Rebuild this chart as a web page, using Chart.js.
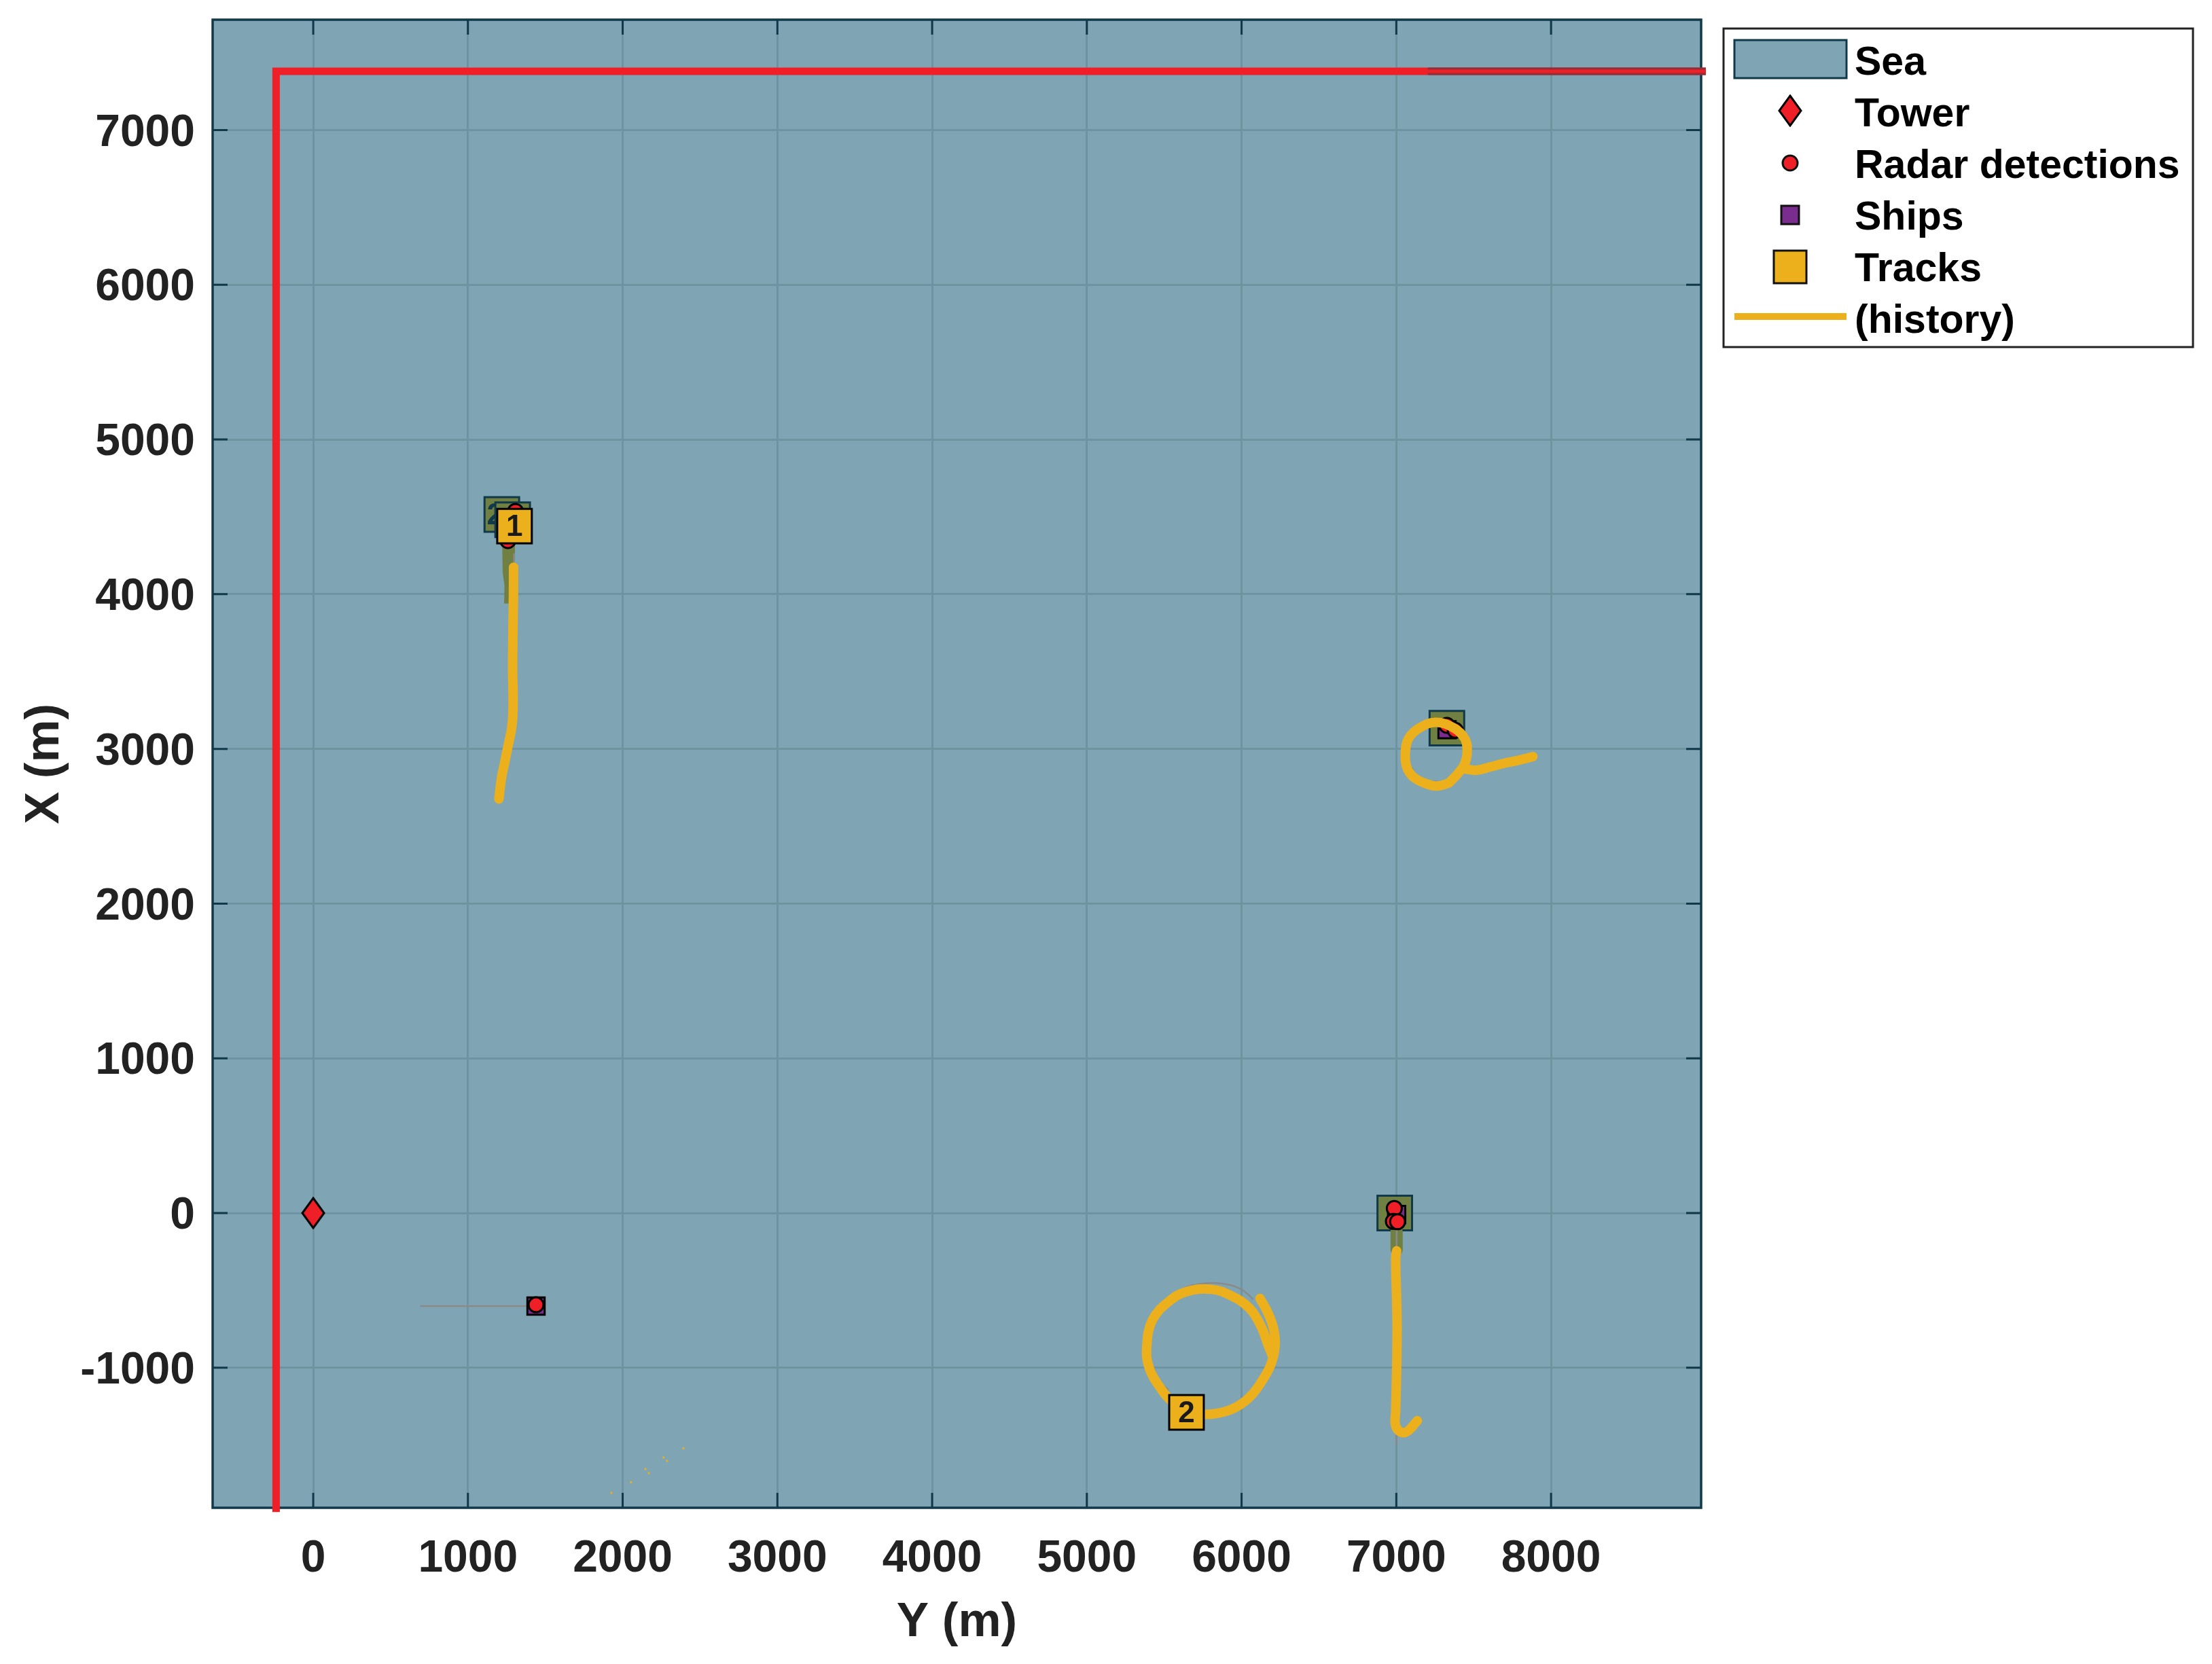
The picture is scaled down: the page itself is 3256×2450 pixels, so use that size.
<!DOCTYPE html>
<html>
<head>
<meta charset="utf-8">
<title>Tracks</title>
<script src="https://cdn.jsdelivr.net/npm/chart.js@4/dist/chart.umd.js"></script>
<style>
    html, body { margin: 0; padding: 0; background: #fff; }
    canvas { display: block; }
</style>
</head>
<body>
<canvas id="trackChart" width="3256" height="2450"></canvas>
<script>
// tick labels
const yTickValues = [0, 1000, 2000, 3000, 4000, 5000, 6000, 7000, 8000];
const xTickValues = [-1000, 0, 1000, 2000, 3000, 4000, 5000, 6000, 7000];
const legendLabels = ['Sea', 'Tower', 'Radar detections', 'Ships', 'Tracks', '(history)'];

// horizontal axis is Y (m), vertical axis is X (m)
const towerY = [0];
const towerX = [0];

const radarY = [1440, 1307, 1258, 7327, 7381, 6987, 6981, 7008];
const radarX = [-593, 4535, 4346, 3152, 3120, 30, -54, -56];

const shipY = [1440, 7328, 7002];
const shipX = [-601, 3124, -10];

const trackY = [1301, 5644];
const trackX = [4440, -1288];
const trackLabels = ['1', '2'];

const oldTrackY = [1289, 7327, 6990];
const oldTrackX = [4481, 3134, 0];
const backTrackY = [1219];
const backTrackX = [4515];
const backTrackLabels = ['2'];

const historyY = [
    1295, 1294, 1291, 1289, 1292, 1290, 1282, 1260, 1239, 1217, 1200, null,
    7883, 7780, 7693, 7605, 7517, 7444, null,
    7341, 7400, 7441, 7458, 7444, 7371, 7254, 7151, 7081, 7059, 7066, 7107, 7195, 7268, 7341, null,
    7136, 7071, 7027, 6995, 6996, 7002, 7005, 7002, 6996, 7002, null,
    6119, 6171, 6207, 6217, 6193, 6141, 6054, 5951, 5819, 5673, null,
    5560, 5490, 5402, 5388, 5424, 5527, 5644, 5805, 5937, 6054, 6127, 6171, 6200
];
const historyX = [
    4174, 3977, 3795, 3493, 3342, 3215, 3130, 3023, 2919, 2812, 2676, null,
    2950, 2924, 2906, 2883, 2862, 2870, null,
    2780, 2843, 2902, 2975, 3063, 3136, 3172, 3136, 3070, 2982, 2887, 2821, 2774, 2760, 2780, null,
    -1342, -1411, -1415, -1371, -1276, -1027, -735, -559, -296, -244, null,
    -552, -647, -749, -852, -969, -1071, -1188, -1261, -1298, -1298, null,
    -1230, -1152, -998, -852, -691, -574, -508, -493, -537, -618, -735, -852, -925
];

const oldHistoryY = [1261, 1264, 1276, 1273, null, 7002, 7002];
const oldHistoryX = [4311, 4144, 4053, 3939, null, -120, -237];

const truthY = [
    691, 1388, null,
    1298, 1298, null,
    7002, 7002, null,
    7002, 7002, null,
    5571, 5658, 5805, 5922, 6010, 6075, null,
    5432, 5461, 5527, null,
    7100, 7120, 7180, 7235, 7268, null,
    7444, 7473, 7476
];
const truthX = [
    -601, -601, null,
    4264, 4174, null,
    -105, -237, null,
    -1422, -1503, null,
    -522, -474, -452, -464, -500, -559, null,
    -998, -1078, -1144, null,
    2880, 2836, 2800, 2790, 2790, null,
    3106, 3026, 2953
];

const speckY = [1927, 2054, 2147, 2169, 2265, 2287, 2393];
const speckX = [-1809, -1740, -1655, -1681, -1580, -1602, -1521];

const boundaryY = [-240, -240, 9000];
const boundaryX = [-1932, 7379, 7379];
const boundaryEndY = [7204, 9000];
const boundaryEndX = [7379, 7379];

const seaColor = '#7fa5b4';
const frameColor = '#10394a';
const gridColor = '#6f94a1';
const redColor = '#ee1f26';
const yellowColor = '#ecb01c';
const oliveColor = '#707f42';
const purpleColor = '#7b2d8f';
const fontFamily = '"Liberation Sans", Arial, sans-serif';

const zip = (xs, ys) => xs.map((x, i) => ({ x: x, y: ys[i] }));

// the tower marker is a narrow diamond, chart.js rectRot is too wide
function diamondMarker() {
    const c = document.createElement('canvas');
    c.width = 36;
    c.height = 48;
    const g = c.getContext('2d');
    g.beginPath();
    g.moveTo(18, 2);
    g.lineTo(34, 24);
    g.lineTo(18, 46);
    g.lineTo(2, 24);
    g.closePath();
    g.fillStyle = redColor;
    g.fill();
    g.lineWidth = 3;
    g.strokeStyle = '#000';
    g.stroke();
    return c;
}
const towerMarker = diamondMarker();

function markerDataset(label, xs, ys, style, radius, fill, border) {
    return {
        label: label,
        data: zip(xs, ys),
        pointStyle: style,
        pointRadius: radius,
        pointBackgroundColor: fill,
        pointBorderColor: border,
        pointBorderWidth: 3,
        showLine: false
    };
}

function lineDataset(label, xs, ys, color, width, extra) {
    return Object.assign({
        label: label,
        data: zip(xs, ys),
        showLine: true,
        pointRadius: 0,
        borderColor: color,
        borderWidth: width,
        borderJoinStyle: 'round',
        borderCapStyle: 'round',
        spanGaps: false
    }, extra || {});
}

// first dataset is painted last, so this list runs from top to bottom
const trackSet = markerDataset('Tracks', trackY, trackX, 'rect', 36, yellowColor, '#000');
trackSet.markLabels = trackLabels;
trackSet.markLabelColor = '#1a1a1a';

const backTrackSet = markerDataset('Old track', backTrackY, backTrackX, 'rect', 36, oliveColor, frameColor);
backTrackSet.markLabels = backTrackLabels;
backTrackSet.markLabelColor = frameColor;

const datasets = [
    lineDataset('Boundary end', boundaryEndY, boundaryEndX, redColor, 5, { clip: false, borderCapStyle: 'butt' }),
    lineDataset('Boundary end edge', boundaryEndY, boundaryEndX, '#8f2f38', 11, { clip: false, borderCapStyle: 'butt' }),
    lineDataset('Boundary', boundaryY, boundaryX, redColor, 11, { clip: false, borderCapStyle: 'butt', borderJoinStyle: 'miter' }),
    trackSet,
    lineDataset('(history)', historyY, historyX, yellowColor, 14, { tension: 0.4 }),
    markerDataset('Radar detections', radarY, radarX, 'circle', 11, redColor, '#000'),
    markerDataset('Ships', shipY, shipX, 'rect', 18, purpleColor, '#000'),
    lineDataset('Truth', truthY, truthX, '#8a8a8a', 2.5, { borderCapStyle: 'butt', tension: 0.4 }),
    lineDataset('Old history', oldHistoryY, oldHistoryX, oliveColor, 18, { borderCapStyle: 'butt' }),
    markerDataset('Old track', oldTrackY, oldTrackX, 'rect', 36, oliveColor, frameColor),
    backTrackSet,
    markerDataset('Tower', towerY, towerX, towerMarker, 18, redColor, '#000'),
    markerDataset('Specks', speckY, speckX, 'rect', 2, yellowColor, yellowColor)
];
datasets[datasets.length - 1].pointBorderWidth = 0;

const seaPlugin = {
    id: 'sea',
    beforeDraw(chart) {
        const a = chart.chartArea;
        chart.ctx.fillStyle = seaColor;
        chart.ctx.fillRect(a.left, a.top, a.width, a.height);
    },
    // frame and inward ticks, on all four sides like the original axes box
    beforeDatasetsDraw(chart) {
        const a = chart.chartArea;
        const ctx = chart.ctx;
        const tick = 22;
        ctx.save();
        ctx.strokeStyle = frameColor;
        ctx.lineWidth = 3;
        chart.scales.x.ticks.forEach(t => {
            const px = chart.scales.x.getPixelForValue(t.value);
            ctx.beginPath();
            ctx.moveTo(px, a.top);
            ctx.lineTo(px, a.top + tick);
            ctx.moveTo(px, a.bottom);
            ctx.lineTo(px, a.bottom - tick);
            ctx.stroke();
        });
        chart.scales.y.ticks.forEach(t => {
            const py = chart.scales.y.getPixelForValue(t.value);
            ctx.beginPath();
            ctx.moveTo(a.left, py);
            ctx.lineTo(a.left + tick, py);
            ctx.moveTo(a.right, py);
            ctx.lineTo(a.right - tick, py);
            ctx.stroke();
        });
        ctx.lineWidth = 3.5;
        ctx.strokeRect(a.left, a.top, a.width, a.height);
        ctx.restore();
    },
    // numbers inside the track squares
    afterDatasetDraw(chart, args) {
        const set = chart.data.datasets[args.index];
        if (!set.markLabels) return;
        const ctx = chart.ctx;
        ctx.save();
        ctx.font = 'bold 44px ' + fontFamily;
        ctx.textAlign = 'center';
        ctx.textBaseline = 'middle';
        ctx.fillStyle = set.markLabelColor;
        set.data.forEach((p, i) => {
            ctx.fillText(set.markLabels[i], chart.scales.x.getPixelForValue(p.x) - (set.label === 'Old track' ? 10 : 0), chart.scales.y.getPixelForValue(p.y) + 2);
        });
        ctx.restore();
    }
};

// matlab style legend box to the right of the axes
const legendPlugin = {
    id: 'boxLegend',
    afterDraw(chart) {
        const ctx = chart.ctx;
        const midX = 2635;
        ctx.save();
        ctx.fillStyle = '#fff';
        ctx.strokeStyle = '#222';
        ctx.lineWidth = 3;
        ctx.fillRect(2537, 42, 691, 469);
        ctx.strokeRect(2537, 42, 691, 469);

        ctx.fillStyle = seaColor;
        ctx.strokeStyle = frameColor;
        ctx.fillRect(2553, 59, 165, 56);
        ctx.strokeRect(2553, 59, 165, 56);

        ctx.drawImage(towerMarker, midX - 18, 163 - 24);

        ctx.beginPath();
        ctx.arc(midX, 240, 11, 0, Math.PI * 2);
        ctx.fillStyle = redColor;
        ctx.fill();
        ctx.strokeStyle = '#111';
        ctx.stroke();

        ctx.fillStyle = purpleColor;
        ctx.fillRect(midX - 13, 303, 26, 27);
        ctx.strokeRect(midX - 13, 303, 26, 27);

        ctx.fillStyle = yellowColor;
        ctx.fillRect(midX - 24, 369, 48, 48);
        ctx.strokeRect(midX - 24, 369, 48, 48);

        ctx.strokeStyle = yellowColor;
        ctx.lineWidth = 10;
        ctx.beginPath();
        ctx.moveTo(2553, 466);
        ctx.lineTo(2718, 466);
        ctx.stroke();

        ctx.fillStyle = '#000';
        ctx.font = 'bold 59px ' + fontFamily;
        ctx.textAlign = 'left';
        ctx.textBaseline = 'alphabetic';
        legendLabels.forEach((text, i) => {
            ctx.fillText(text, 2730, 110 + i * 76);
        });
        ctx.restore();
    }
};

new Chart(document.getElementById('trackChart'), {
    type: 'scatter',
    data: { datasets: datasets },
    plugins: [seaPlugin, legendPlugin],
    options: {
        responsive: false,
        animation: false,
        events: [],
        layout: { autoPadding: false, padding: { top: 29, right: 752, left: 0, bottom: 0 } },
        plugins: {
            legend: { display: false },
            tooltip: { enabled: false },
            title: { display: false }
        },
        scales: {
            x: {
                type: 'linear',
                min: -650,
                max: 8970,
                afterBuildTicks: scale => { scale.ticks = yTickValues.map(v => ({ value: v })); },
                afterFit: scale => {
                    scale.height = 230;
                    scale.paddingLeft = 0;
                    scale.paddingRight = 0;
                    scale.paddingTop = 0;
                    scale.paddingBottom = 0;
                },
                grid: { color: gridColor, lineWidth: 3, drawTicks: false },
                border: { display: false },
                ticks: {
                    maxRotation: 0,
                    autoSkip: false,
                    padding: 36,
                    color: '#222',
                    font: { family: fontFamily, size: 66, weight: 'bold' },
                    callback: value => String(value)
                },
                title: {
                    display: true,
                    text: 'Y (m)',
                    color: '#222',
                    padding: 18,
                    font: { family: fontFamily, size: 71, weight: 'bold' }
                }
            },
            y: {
                type: 'linear',
                min: -1905,
                max: 7713,
                afterBuildTicks: scale => { scale.ticks = xTickValues.map(v => ({ value: v })); },
                afterFit: scale => {
                    scale.width = 313;
                    scale.paddingLeft = 0;
                    scale.paddingRight = 0;
                    scale.paddingTop = 0;
                    scale.paddingBottom = 0;
                },
                grid: { color: gridColor, lineWidth: 3, drawTicks: false },
                border: { display: false },
                ticks: {
                    autoSkip: false,
                    padding: 26,
                    labelOffset: 5,
                    color: '#222',
                    font: { family: fontFamily, size: 66, weight: 'bold' },
                    callback: value => String(value)
                },
                title: {
                    display: true,
                    text: 'X (m)',
                    color: '#222',
                    padding: 24,
                    font: { family: fontFamily, size: 71, weight: 'bold' }
                }
            }
        }
    }
});
</script>
</body>
</html>
